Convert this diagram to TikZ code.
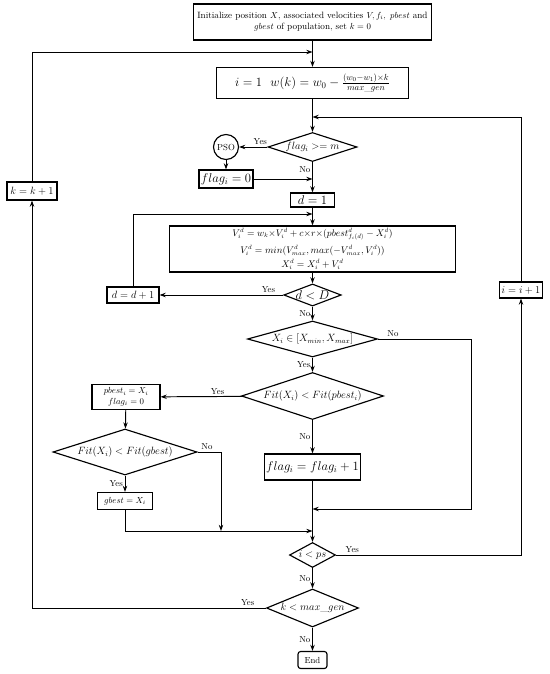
\documentclass[tikz,border=0pt]{standalone}
\usepackage{amsmath}
\usetikzlibrary{arrows.meta, positioning, shapes.geometric, calc}

\begin{document}
\begin{tikzpicture}[
  proc/.style={draw, line width=1.3pt, inner sep=2pt, align=center},
  decision/.style={draw, diamond, line width=1.3pt, inner sep=0pt, align=center, font=\large},
  arr/.style={-{Stealth[length=7pt, width=5pt]}, line width=1.1pt},
  lbl/.style={font=\normalsize, inner sep=2pt},
]
\useasboundingbox (0,0) rectangle (22,-26.96);

% Initialisation
\node[proc, minimum width=9.52cm, minimum height=1.44cm, font=\fontsize{10.4}{13}\selectfont] (init) at (12.5,-0.88)
  {Initialize position $X$, associated velocities $V,f_i,\ pbest$ and\\ $gbest$ of population, set $k=0$};
\node[proc, minimum width=7.68cm, minimum height=1.24cm, font=\Large] (wbox) at (12.5,-3.32)
  {$i=1\ \ w(k)=w_0-\frac{(w_0-w_1)\times k}{max\_gen}$};

% Stagnation check
\node[decision, aspect=3.07, minimum width=3.56cm, minimum height=1.16cm] (flagd) at (12.5,-5.88) {$flag_i >= m$};
\node[circle, draw, line width=1.3pt, minimum size=1.0cm, inner sep=0pt] (pso) at (9.04,-5.88) {PSO};
\node[proc, minimum width=2.16cm, minimum height=0.72cm, font=\Large] (flag0) at (9.04,-7.16) {$flag_i=0$};
\node[proc, minimum width=1.76cm, minimum height=0.56cm, font=\Large] (d1) at (12.5,-8.0) {$d=1$};

% Velocity and position update
\node[proc, minimum width=11.44cm, minimum height=1.84cm, font=\fontsize{10.5}{11}\selectfont, inner sep=1pt] (big) at (12.5,-9.96)
  {$V_i^d=w_k{\times}V_i^d+c{\times}r{\times}(pbest^d_{f_i(d)}-X_i^d)$\\[4.5pt]
   $V_i^d=min(V^d_{max},max(-V^d_{max},V_i^d))$\\[3.5pt]
   $X_i^d=X_i^d+V_i^d$};
\node[decision, aspect=2.6, minimum width=2.1cm, minimum height=0.82cm, font=\Large] (dD) at (12.5,-11.8) {$d<D$};
\node[proc, minimum width=2.08cm, minimum height=0.64cm, font=\large] (dinc) at (5.32,-11.8) {$d=d+1$};

% Outer counters
\node[proc, minimum width=2.0cm, minimum height=0.72cm, font=\large] (kinc) at (1.28,-7.64) {$k=k+1$};
\node[proc, minimum width=1.72cm, minimum height=0.64cm, font=\large] (iinc) at (20.84,-11.6) {$i=i+1$};

% Bounds and fitness
\node[decision, aspect=3.6, minimum width=5.2cm, minimum height=1.44cm] (xi) at (12.5,-13.56) {$X_i\in[X_{min},X_{max}]$};
\node[decision, aspect=3.0, minimum width=5.68cm, minimum height=1.88cm] (pbd) at (12.5,-15.84) {$Fit(X_i)<Fit(pbest_i)$};
\node[proc, minimum width=2.72cm, minimum height=1.0cm, inner sep=1pt] (pbox) at (5.04,-15.88)
  {$pbest_i=X_i$\\ $flag_i=0$};
\node[decision, aspect=3.1, minimum width=5.76cm, minimum height=1.84cm] (gbd) at (5.0,-18.08) {$Fit(X_i)<Fit(gbest)$};
\node[proc, minimum width=3.72cm, minimum height=1.04cm, font=\Large] (fplus) at (12.5,-18.68) {$flag_i=flag_i+1$};
\node[proc, minimum width=2.2cm, minimum height=0.68cm] (gbox) at (5.0,-20.04) {$gbest=X_i$};

% Termination
\node[decision, aspect=1.84, minimum width=1.84cm, minimum height=1.0cm] (ips) at (12.5,-22.2) {$i<ps$};
\node[decision, aspect=2.4, minimum width=3.68cm, minimum height=1.52cm] (kmax) at (12.5,-24.32) {$k<max\_gen$};
\node[proc, rounded corners=3pt, minimum width=1.16cm, minimum height=0.68cm] (endn) at (12.5,-26.4) {End};

% Junctions on the main line
\coordinate (jtop) at (12.5,-2.08);
\coordinate (jflag) at (12.5,-4.68);
\coordinate (jf0) at (12.5,-7.16);
\coordinate (jd) at (12.5,-8.56);
\coordinate (xcorner) at (18.84,-20.36);
\coordinate (jxi) at (12.5,-20.36);
\coordinate (jg) at (8.84,-21.24);
\coordinate (jmain) at (12.5,-21.24);

% Connectors
\draw[arr] (init) -- (wbox);
\draw[arr] (kinc.north) |- (jtop);
\draw[arr] (wbox) -- (flagd);
\draw[arr] (iinc.north) |- (jflag);
\draw[arr] (flagd) -- node[lbl, above, pos=0.25] {Yes} (pso);
\draw[arr] (flagd) -- node[lbl, left, pos=0.25] {No} (d1);
\draw[arr] (pso) -- (flag0);
\draw[arr] (flag0) -- (jf0);
\draw[arr] (d1) -- (big);
\draw[arr] (dinc.north) |- (jd);
\draw[arr] (big) -- (dD);
\draw[arr] (dD) -- node[lbl, above, pos=0.12] {Yes} (dinc);
\draw[arr] (dD) -- node[lbl, left] {No} (xi);
\draw[arr] (xi.east) -| node[lbl, above, pos=0.08] {No} (xcorner) -- (jxi);
\draw[arr] (xi) -- node[lbl, left] {Yes} (pbd);
\draw[arr] (pbd) -- node[lbl, above, pos=0.3] {Yes} (pbox);
\draw[arr] (pbd) -- node[lbl, left] {No} (fplus);
\draw[arr] (pbox) -- (gbd);
\draw[arr] (gbd.east) -| node[lbl, above, pos=0.2] {No} (jg);
\draw[arr] (gbd) -- node[lbl, left] {Yes} (gbox);
\draw[arr] (gbox.south) |- (jmain);
\draw[arr] (fplus) -- (ips);
\draw[arr] (ips.east) -| node[lbl, above right, pos=0.02] {Yes} (iinc.south);
\draw[arr] (ips) -- node[lbl, left] {No} (kmax);
\draw[arr] (kmax.west) -| node[lbl, above left, pos=0.02] {Yes} (kinc.south);
\draw[arr] (kmax) -- node[lbl, left] {No} (endn);

\end{tikzpicture}
\end{document}
